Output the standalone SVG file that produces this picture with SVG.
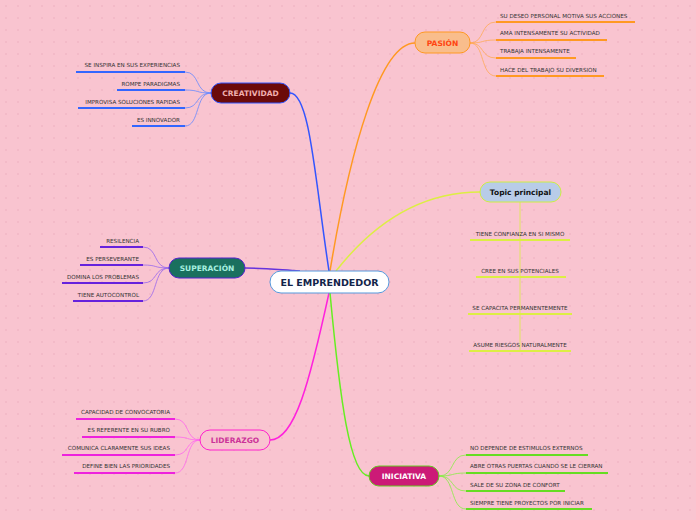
<svg xmlns="http://www.w3.org/2000/svg" width="696" height="520" viewBox="0 0 696 520">
<defs>
<pattern id="dots" width="12" height="12" patternUnits="userSpaceOnUse"><circle cx="6" cy="6" r="0.7" fill="#e9a9b8"/></pattern>
<style>
.t{font-family:"DejaVu Sans",sans-serif;font-size:5.6px;fill:#333}
.n{font-family:"DejaVu Sans",sans-serif;font-size:7.5px;font-weight:bold;text-anchor:middle}
.c{fill:none;stroke-width:1.5}
.s{fill:none;stroke-width:0.8}
</style>
</defs>
<rect width="696" height="520" fill="#f9c4d0"/>
<rect width="696" height="520" fill="url(#dots)"/>
<g id="connectors">
<path class="c" stroke="#ff9922" d="M330,271 C350,150 380,43 415,43"/>
<path class="c" stroke="#3355ff" d="M329,271 C315,180 310,93 290,93"/>
<path class="c" stroke="#6633dd" d="M300,271 C270,269 260,268 245,268"/>
<path class="c" stroke="#ff22dd" d="M329,293 C310,380 295,440 270,440"/>
<path class="c" stroke="#66ee22" d="M330,293 C340,400 350,476 369,476"/>
<path class="c" stroke="#ddee44" d="M336,271 C380,215 430,192 480,192"/>
<g stroke="#ffaa55" class="s"><path d="M470,43 C485,43 480,22 496,22"/><path d="M470,43 C485,43 480,40 496,40"/><path d="M470,43 C485,43 480,58 496,58"/><path d="M470,43 C485,43 480,76 496,76"/></g>
<g stroke="#6688ff" class="s"><path d="M211,93 C195,93 200,72 185,72"/><path d="M211,93 C195,93 200,90 185,90"/><path d="M211,93 C195,93 200,108 185,108"/><path d="M211,93 C195,93 200,126 185,126"/></g>
<g stroke="#9966ee" class="s"><path d="M169,268 C153,268 158,247 143,247"/><path d="M169,268 C153,268 158,265 143,265"/><path d="M169,268 C153,268 158,283 143,283"/><path d="M169,268 C153,268 158,301 143,301"/></g>
<g stroke="#ff66ee" class="s"><path d="M200,440 C185,440 190,419 175,419"/><path d="M200,440 C185,440 190,437 175,437"/><path d="M200,440 C185,440 190,455 175,455"/><path d="M200,440 C185,440 190,473 175,473"/></g>
<g stroke="#88ee44" class="s"><path d="M439,476 C455,476 450,455 466,455"/><path d="M439,476 C455,476 450,473 466,473"/><path d="M439,476 C455,476 450,491 466,491"/><path d="M439,476 C455,476 450,509 466,509"/></g>
<path stroke="#ddee44" class="s" d="M520,202 V351"/>
<g stroke-width="2">
<path stroke="#ff9922" d="M496,22H635M496,40H607M496,58H576M496,76H604"/>
<path stroke="#3366ff" d="M76,72H185M117,90H185M78,108H185M132,126H185"/>
<path stroke="#6622dd" d="M100,247H143M80,265H143M62,283H143M73,301H143"/>
<path stroke="#ee22dd" d="M76,419H175M82,437H175M62,455H175M74,473H175"/>
<path stroke="#66dd22" d="M466,455H588M466,473H608M466,491H565M466,509H592"/>
<path stroke="#ddee44" d="M470,240H570M476,277H566M468,314H572M469,351H571"/>
</g>
</g>
<g id="central"><rect x="270" y="271" width="119" height="22" rx="11" fill="#fff" stroke="#5599dd"/><text class="n" x="329.5" y="286" style="font-size:9.5px" fill="#12244a">EL EMPRENDEDOR</text></g>
<g id="pasion"><rect x="415" y="32" width="55" height="21" rx="10" fill="#f9bd8c" stroke="#ff9922"/><text class="n" x="442.5" y="45.5" fill="#ff4411">PASIÓN</text></g>
<g id="creatividad"><rect x="211" y="83" width="79" height="20" rx="10" fill="#6b0a0a" stroke="#3355ff"/><text class="n" x="250.5" y="96" fill="#f0b0b0">CREATIVIDAD</text></g>
<g id="superacion"><rect x="169" y="258" width="76" height="20" rx="10" fill="#1a705e" stroke="#5522cc"/><text class="n" x="207" y="271" fill="#a8f0e0">SUPERACIÓN</text></g>
<g id="liderazgo"><rect x="200" y="430" width="70" height="20" rx="10" fill="#f9c4d0" stroke="#ff22cc"/><text class="n" x="235" y="443" fill="#cc3399">LIDERAZGO</text></g>
<g id="iniciativa"><rect x="369" y="466" width="70" height="20" rx="10" fill="#cc1a77" stroke="#66cc22"/><text class="n" x="404" y="479" fill="#fff">INICIATIVA</text></g>
<g id="topic"><rect x="480" y="182" width="81" height="20" rx="10" fill="#b8cce8" stroke="#ccee44"/><text class="n" x="520.5" y="195" fill="#111">Topic principal</text></g>
<g id="pasion-items" class="t"><text x="500" y="18">SU DESEO PERSONAL MOTIVA SUS ACCIONES</text><text x="500" y="35">AMA INTENSAMENTE SU ACTIVIDAD</text><text x="500" y="53">TRABAJA INTENSAMENTE</text><text x="500" y="72">HACE DEL TRABAJO SU DIVERSION</text></g>
<g id="creatividad-items" class="t" text-anchor="end"><text x="180" y="67">SE INSPIRA EN SUS EXPERIENCIAS</text><text x="180" y="86">ROMPE PARADIGMAS</text><text x="180" y="104">IMPROVISA SOLUCIONES RAPIDAS</text><text x="180" y="122">ES INNOVADOR</text></g>
<g id="superacion-items" class="t" text-anchor="end"><text x="139" y="243">RESILENCIA</text><text x="139" y="261">ES PERSEVERANTE</text><text x="139" y="279">DOMINA LOS PROBLEMAS</text><text x="139" y="297">TIENE AUTOCONTROL</text></g>
<g id="liderazgo-items" class="t" text-anchor="end"><text x="170" y="414">CAPACIDAD DE CONVOCATORIA</text><text x="170" y="432">ES REFERENTE EN SU RUBRO</text><text x="170" y="450">COMUNICA CLARAMENTE SUS IDEAS</text><text x="170" y="468">DEFINE BIEN LAS PRIORIDADES</text></g>
<g id="iniciativa-items" class="t"><text x="470" y="450">NO DEPENDE DE ESTIMULOS EXTERNOS</text><text x="470" y="468">ABRE OTRAS PUERTAS CUANDO SE LE CIERRAN</text><text x="470" y="487">SALE DE SU ZONA DE CONFORT</text><text x="470" y="505">SIEMPRE TIENE PROYECTOS POR INICIAR</text></g>
<g id="topic-items" class="t" text-anchor="middle"><text x="520" y="236">TIENE CONFIANZA EN SI MISMO</text><text x="520" y="273">CREE EN SUS POTENCIALES</text><text x="520" y="310">SE CAPACITA PERMANENTEMENTE</text><text x="520" y="347">ASUME RIESGOS NATURALMENTE</text></g>
</svg>
